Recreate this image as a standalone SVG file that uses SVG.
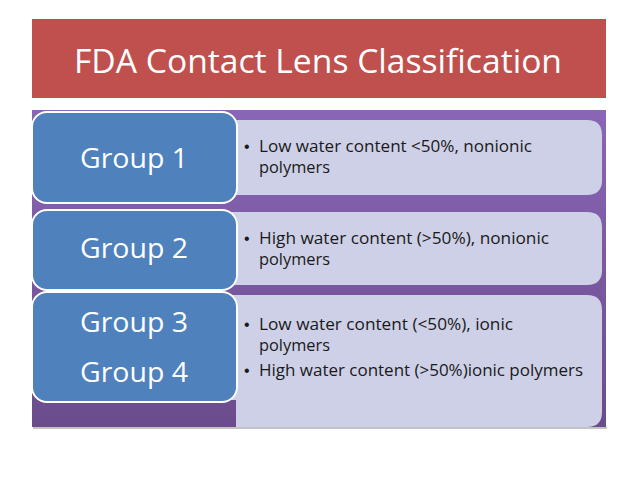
<svg xmlns="http://www.w3.org/2000/svg" width="638" height="479" viewBox="0 0 638 479">
<defs>
<linearGradient id="band" x1="0" y1="0" x2="0" y2="1">
<stop offset="0" stop-color="#8A66B6"/>
<stop offset="1" stop-color="#6A4C8C"/>
</linearGradient>
<style>
.title{font-family:"Open Sans","Liberation Sans",sans-serif;font-size:33px;fill:#ffffff}
.grp{font-family:"Open Sans","Liberation Sans",sans-serif;font-size:28px;fill:#ffffff}
.blue{fill:#4F81BD;stroke:#ffffff;stroke-width:2}
.lav{fill:#CDD0E6}
.txt{font-family:"Open Sans","Liberation Sans",sans-serif;font-size:16px;fill:#1a1a1a}
.bul{font-family:"Liberation Sans",sans-serif;font-size:16px;fill:#1a1a1a}
</style>
</defs>
<rect width="638" height="479" fill="#ffffff"/>
<g id="title">
<rect x="32" y="19" width="574" height="79" fill="#C0504D"/>
<text class="title" x="318" y="73" text-anchor="middle" textLength="488" lengthAdjust="spacingAndGlyphs">FDA Contact Lens Classification</text>
</g>
<g id="band">
<rect x="32" y="110" width="574" height="317" fill="url(#band)"/>
<rect x="33" y="427" width="574" height="2" fill="#8a8a8a" opacity="0.5"/>
</g>
<g id="row1">
<path class="lav" d="M200 120 H587 Q602 120 602 135 V180 Q602 195 587 195 H200 Z"/>
<rect class="blue" x="32" y="112" width="205" height="91" rx="15"/>
<text class="grp" x="80" y="168" textLength="108" lengthAdjust="spacingAndGlyphs">Group 1</text>
<text class="bul" x="244" y="152">•</text>
<text class="txt" x="259" y="152" textLength="273" lengthAdjust="spacingAndGlyphs">Low water content &lt;50%, nonionic</text>
<text class="txt" x="259" y="173" textLength="71" lengthAdjust="spacingAndGlyphs">polymers</text>
</g>
<g id="row2">
<path class="lav" d="M200 212 H587 Q602 212 602 227 V270 Q602 285 587 285 H200 Z"/>
<rect class="blue" x="32" y="210" width="205" height="80" rx="15"/>
<text class="grp" x="80" y="258" textLength="108" lengthAdjust="spacingAndGlyphs">Group 2</text>
<text class="bul" x="244" y="244">•</text>
<text class="txt" x="259" y="244" textLength="290" lengthAdjust="spacingAndGlyphs">High water content (&gt;50%), nonionic</text>
<text class="txt" x="259" y="265" textLength="71" lengthAdjust="spacingAndGlyphs">polymers</text>
</g>
<g id="row3">
<path class="lav" d="M200 295 H587 Q602 295 602 310 V412 Q602 427 587 427 H236 V400 H200 Z"/>
<rect class="blue" x="32" y="292" width="205" height="110" rx="15"/>
<text class="grp" x="80" y="332" textLength="108" lengthAdjust="spacingAndGlyphs">Group 3</text>
<text class="grp" x="80" y="382" textLength="108" lengthAdjust="spacingAndGlyphs">Group 4</text>
<text class="bul" x="244" y="330">•</text>
<text class="txt" x="259" y="330" textLength="254" lengthAdjust="spacingAndGlyphs">Low water content (&lt;50%), ionic</text>
<text class="txt" x="259" y="351" textLength="71" lengthAdjust="spacingAndGlyphs">polymers</text>
<text class="bul" x="244" y="376">•</text>
<text class="txt" x="259" y="376" textLength="324" lengthAdjust="spacingAndGlyphs">High water content (&gt;50%)ionic polymers</text>
</g>
</svg>
